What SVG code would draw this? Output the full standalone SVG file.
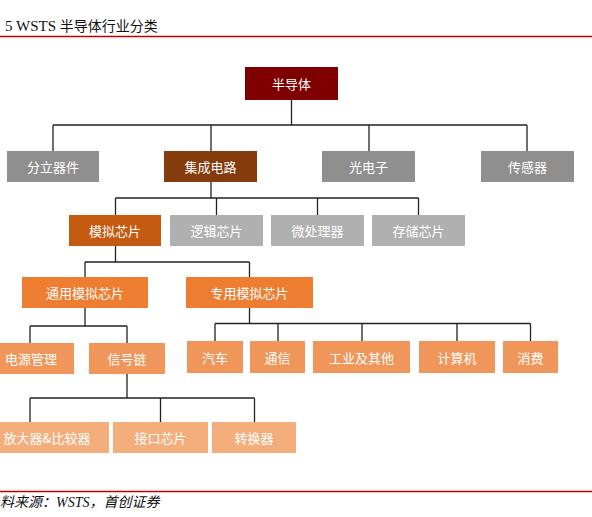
<svg xmlns="http://www.w3.org/2000/svg" width="592" height="517" viewBox="0 0 592 517">
<style>
.t{font-family:"Noto Sans CJK SC","Liberation Serif",sans-serif;font-size:13px;fill:#ffffff;text-anchor:middle;dominant-baseline:central}
.c{fill:none;stroke:#222;stroke-width:1.3}
.l1{fill:#7F0000}
.l2b{fill:#843C0C}
.g1{fill:#8F8F8F}
.g2{fill:#B0B0B0}
.o1{fill:#C55A11}
.o2{fill:#ED7D31}
.o3{fill:#F0965A}
.o4{fill:#F4AE7C}
</style>
<rect width="592" height="517" fill="#fff"/>
<text x="5" y="31" font-family="Liberation Serif,Noto Sans CJK SC,serif" font-size="15" fill="#111">5 WSTS <tspan font-family="Noto Sans CJK SC,sans-serif" font-size="14">半导体行业分类</tspan></text>
<line x1="0" y1="36.5" x2="592" y2="36.5" stroke="#C00000" stroke-width="1.5"/>
<g id="connectors">
<path class="c" d="M291.5 100V125M53 125H527M53 125V151M211 125V151M369 125V151M527 125V151"/>
<path class="c" d="M211 182V198M115.5 198H418.5M115.5 198V215M216.5 198V215M317.5 198V215M418.5 198V215"/>
<path class="c" d="M115.5 246V262M85 262H249.5M85 262V277M249.5 262V277"/>
<path class="c" d="M85 308V326M30 326H127M30 326V343M127 326V343"/>
<path class="c" d="M249.5 308V323.5M215 323.5H530.5M215 323.5V341M278 323.5V341M362 323.5V341M457 323.5V341M530.5 323.5V341"/>
<path class="c" d="M127 374V398M30 398H254.5M30 398V422M160.5 398V422M254.5 398V422"/>
</g>
<g id="n-root"><rect class="l1" x="245" y="67" width="93" height="33"/><text class="t" x="291.5" y="83.5">半导体</text></g>
<g id="n-discrete"><rect class="g1" x="7" y="151" width="92" height="31"/><text class="t" x="53" y="166.5">分立器件</text></g>
<g id="n-ic"><rect class="l2b" x="164" y="151" width="93" height="31"/><text class="t" x="210.5" y="166.5">集成电路</text></g>
<g id="n-opto"><rect class="g1" x="322" y="151" width="93" height="31"/><text class="t" x="368.5" y="166.5">光电子</text></g>
<g id="n-sensor"><rect class="g1" x="481" y="151" width="93" height="31"/><text class="t" x="527.5" y="166.5">传感器</text></g>
<g id="n-analog"><rect class="o1" x="69" y="215" width="92" height="31"/><text class="t" x="115" y="230.5">模拟芯片</text></g>
<g id="n-logic"><rect class="g2" x="170" y="215" width="93" height="31"/><text class="t" x="216.5" y="230.5">逻辑芯片</text></g>
<g id="n-mpu"><rect class="g2" x="271" y="215" width="93" height="31"/><text class="t" x="317.5" y="230.5">微处理器</text></g>
<g id="n-memory"><rect class="g2" x="372" y="215" width="93" height="31"/><text class="t" x="418.5" y="230.5">存储芯片</text></g>
<g id="n-general"><rect class="o2" x="22" y="277" width="126" height="31"/><text class="t" x="85" y="292.5">通用模拟芯片</text></g>
<g id="n-special"><rect class="o2" x="186" y="277" width="127" height="31"/><text class="t" x="249.5" y="292.5">专用模拟芯片</text></g>
<g id="n-power"><rect class="o3" x="-12" y="343" width="86" height="31"/><text class="t" x="31" y="358.5">电源管理</text></g>
<g id="n-signal"><rect class="o3" x="89" y="343" width="76" height="31"/><text class="t" x="127" y="358.5">信号链</text></g>
<g id="n-auto"><rect class="o3" x="187" y="341" width="56" height="32"/><text class="t" x="215" y="357">汽车</text></g>
<g id="n-comm"><rect class="o3" x="250" y="341" width="55" height="32"/><text class="t" x="277.5" y="357">通信</text></g>
<g id="n-industry"><rect class="o3" x="313" y="341" width="97" height="32"/><text class="t" x="361.5" y="357">工业及其他</text></g>
<g id="n-computer"><rect class="o3" x="419" y="341" width="76" height="32"/><text class="t" x="457" y="357">计算机</text></g>
<g id="n-consumer"><rect class="o3" x="503" y="341" width="55" height="32"/><text class="t" x="530.5" y="357">消费</text></g>
<g id="n-amp"><rect class="o4" x="-14" y="422" width="123" height="31"/><text class="t" x="47" y="437.5">放大器&amp;比较器</text></g>
<g id="n-interface"><rect class="o4" x="113" y="422" width="95" height="31"/><text class="t" x="160.5" y="437.5">接口芯片</text></g>
<g id="n-converter"><rect class="o4" x="212" y="422" width="84" height="31"/><text class="t" x="254" y="437.5">转换器</text></g>
<line x1="0" y1="491.5" x2="592" y2="491.5" stroke="#C00000" stroke-width="1.5"/>
<text x="0" y="507" font-family="Noto Sans CJK SC,Liberation Serif,sans-serif" font-size="14" font-style="italic" fill="#111">料来源：<tspan font-family="Liberation Serif,serif">WSTS</tspan>，首创证券</text>
</svg>
